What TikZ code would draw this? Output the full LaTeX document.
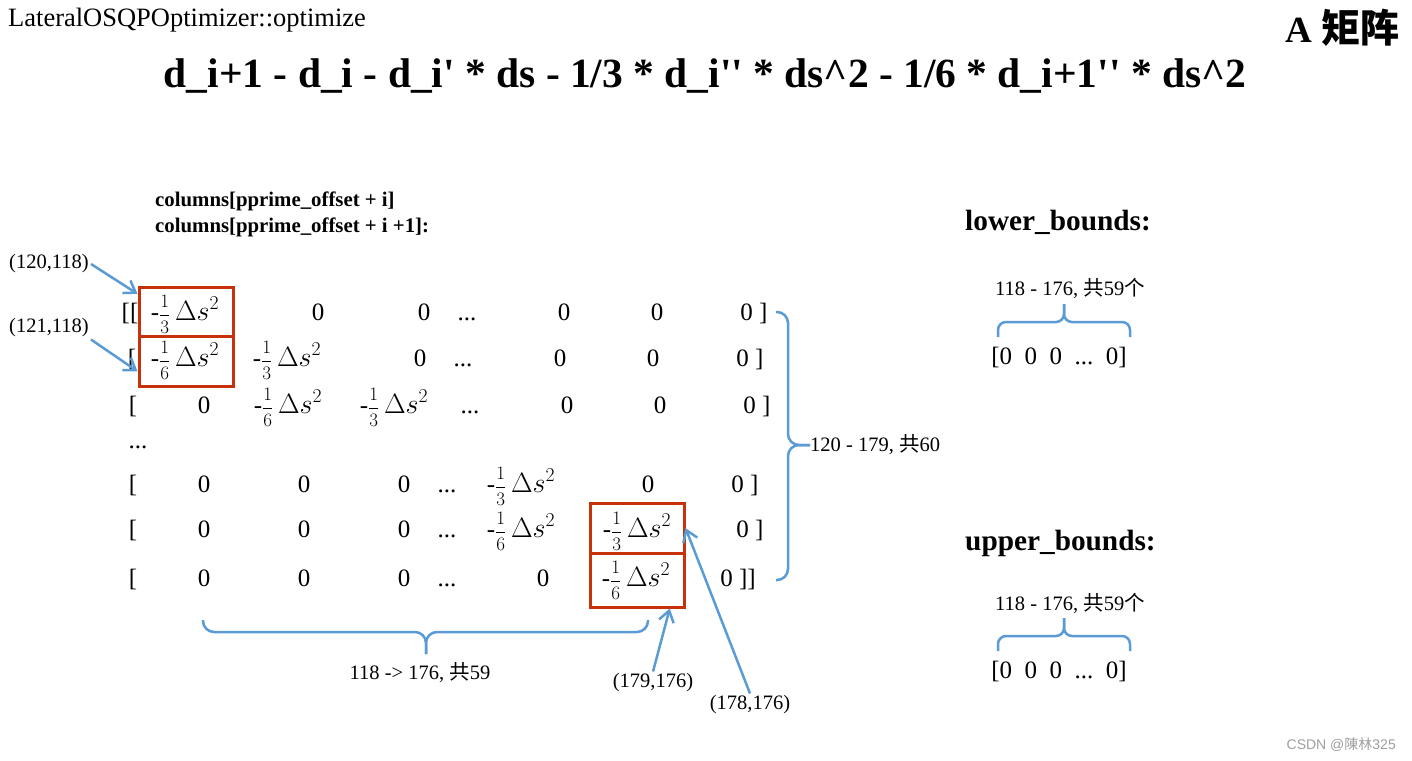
\documentclass[tikz,border=0pt]{standalone}
\usepackage{fix-cm}
\usepackage{fontspec}
\setmainfont{Liberation Serif}
\newfontfamily\cjk{Noto Sans CJK SC}
\newfontfamily\wmfont{Liberation Sans}
\usetikzlibrary{arrows.meta}
\definecolor{lineblue}{RGB}{91,155,213}
\definecolor{boxred}{RGB}{200,50,10}
\newcommand{\cellfont}{\fontsize{25}{30}\selectfont}
\newcommand{\fracpart}[1]{{\fontsize{19}{22}\selectfont$\displaystyle\frac{1}{#1}$}}
\newcommand{\deltapart}{{\fontsize{28}{30}\selectfont$\,\Delta s^2$}}
\newcommand{\mthird}{-\fracpart{3}\deltapart}
\newcommand{\msixth}{-\fracpart{6}\deltapart}

\begin{document}
\begin{tikzpicture}[x=1pt,y=-1pt]
\tikzstyle{cell} = [anchor=base, inner sep=0pt, font=\cellfont]
\tikzstyle{redbox} = [draw=boxred, line width=3pt, minimum width=94pt, minimum height=50pt, inner sep=0pt]
\tikzstyle{arrow} = [-{Straight Barb[length=11pt,width=15pt]}, lineblue, line width=2.5pt]
\tikzstyle{bluebrace} = [lineblue, line width=2.5pt, rounded corners=11pt]
\tikzstyle{note} = [inner sep=2pt, font=\fontsize{20.5}{24}\selectfont]
\useasboundingbox (0,0) rectangle (1412,760);

% titles
\node[anchor=base west, inner sep=0pt, font=\fontsize{26.5}{30}\selectfont] (func) at (8,27) {LateralOSQPOptimizer::optimize};
\node[anchor=base east, inner sep=0pt, font=\fontsize{37}{40}\selectfont\bfseries] (amat) at (1400,43) {A {\cjk\fontsize{39}{40}\selectfont 矩阵}};
\node[anchor=base, inner sep=0pt, font=\fontsize{41.5}{46}\selectfont\bfseries] (eq) at (705,87)
  {d\_i+1 - d\_i - d\_i\textquotesingle{} * ds - 1/3 * d\_i\textquotesingle\textquotesingle{} * ds\textasciicircum 2 - 1/6 * d\_i+1\textquotesingle\textquotesingle{} * ds\textasciicircum 2};
\node[anchor=base west, inner sep=0pt, font=\fontsize{20.8}{24}\selectfont\bfseries] (col1) at (155,206) {columns[pprime\_offset + i]};
\node[anchor=base west, inner sep=0pt, font=\fontsize{20.8}{24}\selectfont\bfseries] (col2) at (155,232) {columns[pprime\_offset + i +1]:};

% red boxes
\node[redbox, minimum height=49pt] (b1) at (186,311.5) {};
\node[redbox] (b2) at (186,361) {};
\node[redbox] (b3) at (637,528) {};
\node[redbox, minimum height=54pt] (b4) at (637,580) {};

% row 1
\node[cell] (r1a) at (130,320) {[[};
\node[cell] (r1b) at (185,320) {\mthird};
\node[cell] (r1c) at (318,320) {0};
\node[cell] (r1d) at (424,320) {0};
\node[cell] (r1e) at (467,320) {...};
\node[cell] (r1f) at (564,320) {0};
\node[cell] (r1g) at (657,320) {0};
\node[cell] (r1h) at (754,320) {0 ]};
% row 2
\node[cell] (r2a) at (132,366) {[};
\node[cell] (r2b) at (185,366) {\msixth};
\node[cell] (r2c) at (287,366) {\mthird};
\node[cell] (r2d) at (420,366) {0};
\node[cell] (r2e) at (463,366) {...};
\node[cell] (r2f) at (560,366) {0};
\node[cell] (r2g) at (653,366) {0};
\node[cell] (r2h) at (750,366) {0 ]};
% row 3
\node[cell] (r3a) at (133,413) {[};
\node[cell] (r3b) at (204,413) {0};
\node[cell] (r3c) at (288,413) {\msixth};
\node[cell] (r3d) at (394,413) {\mthird};
\node[cell] (r3e) at (470,413) {...};
\node[cell] (r3f) at (567,413) {0};
\node[cell] (r3g) at (660,413) {0};
\node[cell] (r3h) at (757,413) {0 ]};
% row 4
\node[cell] (r4a) at (138,448) {...};
% row 5
\node[cell] (r5a) at (133,492) {[};
\node[cell] (r5b) at (204,492) {0};
\node[cell] (r5c) at (304,492) {0};
\node[cell] (r5d) at (404,492) {0};
\node[cell] (r5e) at (447,492) {...};
\node[cell] (r5f) at (521,492) {\mthird};
\node[cell] (r5g) at (648,492) {0};
\node[cell] (r5h) at (745,492) {0 ]};
% row 6
\node[cell] (r6a) at (133,537) {[};
\node[cell] (r6b) at (204,537) {0};
\node[cell] (r6c) at (304,537) {0};
\node[cell] (r6d) at (404,537) {0};
\node[cell] (r6e) at (447,537) {...};
\node[cell] (r6f) at (521,537) {\msixth};
\node[cell] (r6g) at (637,537) {\mthird};
\node[cell] (r6h) at (750,537) {0 ]};
% row 7
\node[cell] (r7a) at (133,586) {[};
\node[cell] (r7b) at (204,586) {0};
\node[cell] (r7c) at (304,586) {0};
\node[cell] (r7d) at (404,586) {0};
\node[cell] (r7e) at (447,586) {...};
\node[cell] (r7f) at (543,586) {0};
\node[cell] (r7g) at (636,586) {\msixth};
\node[cell] (r7h) at (738,586) {0 ]]};

% index labels
\node[note] (l1) at (49,264) {(120,118)};
\node[note] (l2) at (49,328) {(121,118)};
\node[note] (l3) at (653,683) {(179,176)};
\node[note] (l4) at (750,705) {(178,176)};

% arrows
\draw [arrow] (l1.east) -- (b1.160);
\draw [arrow] (l2.south east) -- (b2.192);
\draw [arrow] (l3.north) -- (b4.319);
\draw [arrow] (l4.north) -- (b3.east);

% braces
\coordinate (rowtop) at (776,312);
\coordinate (rowbot) at (776,580);
\coordinate (rowmid) at (788,445);
\coordinate (rowtip) at (810,445);
\draw [bluebrace] (rowtop) -| (rowmid) -- (rowtip);
\draw [bluebrace] (rowbot) -| (rowmid) -- (rowtip);
\coordinate (colleft) at (203,620);
\coordinate (colright) at (648,620);
\coordinate (colmid) at (426,632);
\coordinate (coltip) at (426,654);
\draw [bluebrace] (colleft) |- (colmid) -- (coltip);
\draw [bluebrace] (colright) |- (colmid) -- (coltip);
\node[note, anchor=west] (rowcount) at (808,445) {120 - 179, {\cjk 共}60};
\node[note] (colcount) at (420,673) {118 -> 176, {\cjk 共}59};

% bounds
\node[anchor=base west, inner sep=0pt, font=\fontsize{29.3}{32}\selectfont\bfseries] (lower) at (965,230) {lower\_bounds:};
\node[note] (lowcount) at (1070,288) {118 - 176, {\cjk 共}59{\cjk 个}};
\coordinate (lowleft) at (998,337);
\coordinate (lowright) at (1130,337);
\coordinate (lowmid) at (1064,322);
\coordinate (lowtip) at (1064,304);
\draw [bluebrace, rounded corners=8pt] (lowleft) |- (lowmid) -- (lowtip);
\draw [bluebrace, rounded corners=8pt] (lowright) |- (lowmid) -- (lowtip);
\node[cell] (lowvec) at (1059,364) {[0~~0~~0~~...~~0]};

\node[anchor=base west, inner sep=0pt, font=\fontsize{29.3}{32}\selectfont\bfseries] (upper) at (965,550) {upper\_bounds:};
\node[note] (upcount) at (1070,603) {118 - 176, {\cjk 共}59{\cjk 个}};
\coordinate (upleft) at (998,651);
\coordinate (upright) at (1130,651);
\coordinate (upmid) at (1064,636);
\coordinate (uptip) at (1064,618);
\draw [bluebrace, rounded corners=8pt] (upleft) |- (upmid) -- (uptip);
\draw [bluebrace, rounded corners=8pt] (upright) |- (upmid) -- (uptip);
\node[cell] (upvec) at (1059,678) {[0~~0~~0~~...~~0]};

% watermark
\node[anchor=base east, inner sep=0pt, text=black!38, font=\fontsize{14}{16}\selectfont\wmfont] (mark) at (1396,749) {CSDN @{\cjk 陳林}325};
\end{tikzpicture}
\end{document}
